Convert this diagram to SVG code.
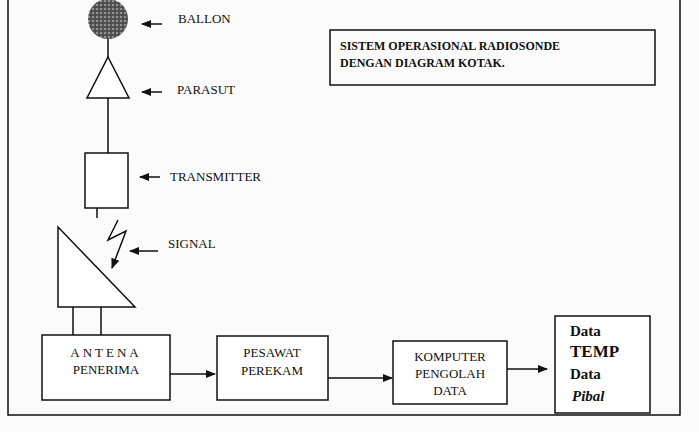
<svg xmlns="http://www.w3.org/2000/svg" width="699" height="432" viewBox="0 0 699 432">
<defs>
<marker id="ah" viewBox="0 0 10 10" refX="9" refY="5" markerWidth="7" markerHeight="7" orient="auto"><path d="M0,1 L10,5 L0,9 z" fill="#111"/></marker>
<pattern id="dots" width="4" height="4" patternUnits="userSpaceOnUse"><rect width="4" height="4" fill="#555"/><circle cx="1" cy="1" r="0.8" fill="#ddd"/><circle cx="3" cy="3" r="0.6" fill="#222"/></pattern>
</defs>
<style>
.s{fill:none;stroke:#111;stroke-width:1.5}
.w{fill:#fff;stroke:#111;stroke-width:1.5}
text{font-family:"Liberation Serif",serif;fill:#111}
.l{font-size:13px}
.b{font-size:13px;text-anchor:middle}
</style>
<rect width="699" height="432" fill="#fbfbfb"/>
<g id="frame"><path class="s" d="M8,0 V415 H680 V0"/></g>
<g id="ballon"><circle cx="108" cy="19" r="20" fill="url(#dots)"/><text class="l" x="178" y="23">BALLON</text></g>
<g id="parasut"><path class="w" d="M108,57 L129,98 L87,98 Z"/><text class="l" x="177" y="94">PARASUT</text></g>
<g id="transmitter"><rect class="w" x="85" y="153" width="43" height="55"/><text class="l" x="170" y="181">TRANSMITTER</text></g>
<g id="antenna"><path class="w" d="M58,227 L135,307 L58,307 Z"/><text class="l" x="168" y="248">SIGNAL</text></g>
<g id="title"><rect class="s" x="330" y="30" width="325" height="55"/>
<text x="340" y="50" font-size="12" font-weight="bold">SISTEM OPERASIONAL RADIOSONDE</text>
<text x="340" y="67" font-size="12" font-weight="bold">DENGAN DIAGRAM KOTAK.</text></g>
<g id="antena-penerima"><rect class="w" x="42" y="335" width="128" height="65"/><text class="b" x="106" y="357" letter-spacing="3">ANTENA</text><text class="b" x="106" y="374">PENERIMA</text></g>
<g id="pesawat"><rect class="w" x="217" y="336" width="111" height="64"/><text class="b" x="272" y="357">PESAWAT</text><text class="b" x="272" y="375">PEREKAM</text></g>
<g id="komputer"><rect class="w" x="393" y="341" width="114" height="63"/><text class="b" x="450" y="361">KOMPUTER</text><text class="b" x="450" y="378">PENGOLAH</text><text class="b" x="450" y="395">DATA</text></g>
<g id="data"><rect class="w" x="555" y="316" width="95" height="97"/>
<text x="570" y="336" font-size="15" font-weight="bold">Data</text>
<text x="570" y="357" font-size="17" font-weight="bold">TEMP</text>
<text x="570" y="379" font-size="15" font-weight="bold">Data</text>
<text x="572" y="401" font-size="15" font-weight="bold" font-style="italic">Pibal</text></g>
<g id="connectors">
<path class="s" d="M108,39 V57 M108,98 V153 M97,208 V218 M73,307 V335 M101,307 V335"/>
<path class="s" d="M118,220 L108,240 L126,231 L112,268" marker-end="url(#ah)"/>
<path class="s" d="M162,24 H142" marker-end="url(#ah)"/>
<path class="s" d="M162,92 H142" marker-end="url(#ah)"/>
<path class="s" d="M160,177 H140" marker-end="url(#ah)"/>
<path class="s" d="M158,251 H130" marker-end="url(#ah)"/>
<path class="s" d="M170,374 H215" marker-end="url(#ah)"/>
<path class="s" d="M328,378 H392" marker-end="url(#ah)"/>
<path class="s" d="M507,369 H547" marker-end="url(#ah)"/>
</g>
</svg>
